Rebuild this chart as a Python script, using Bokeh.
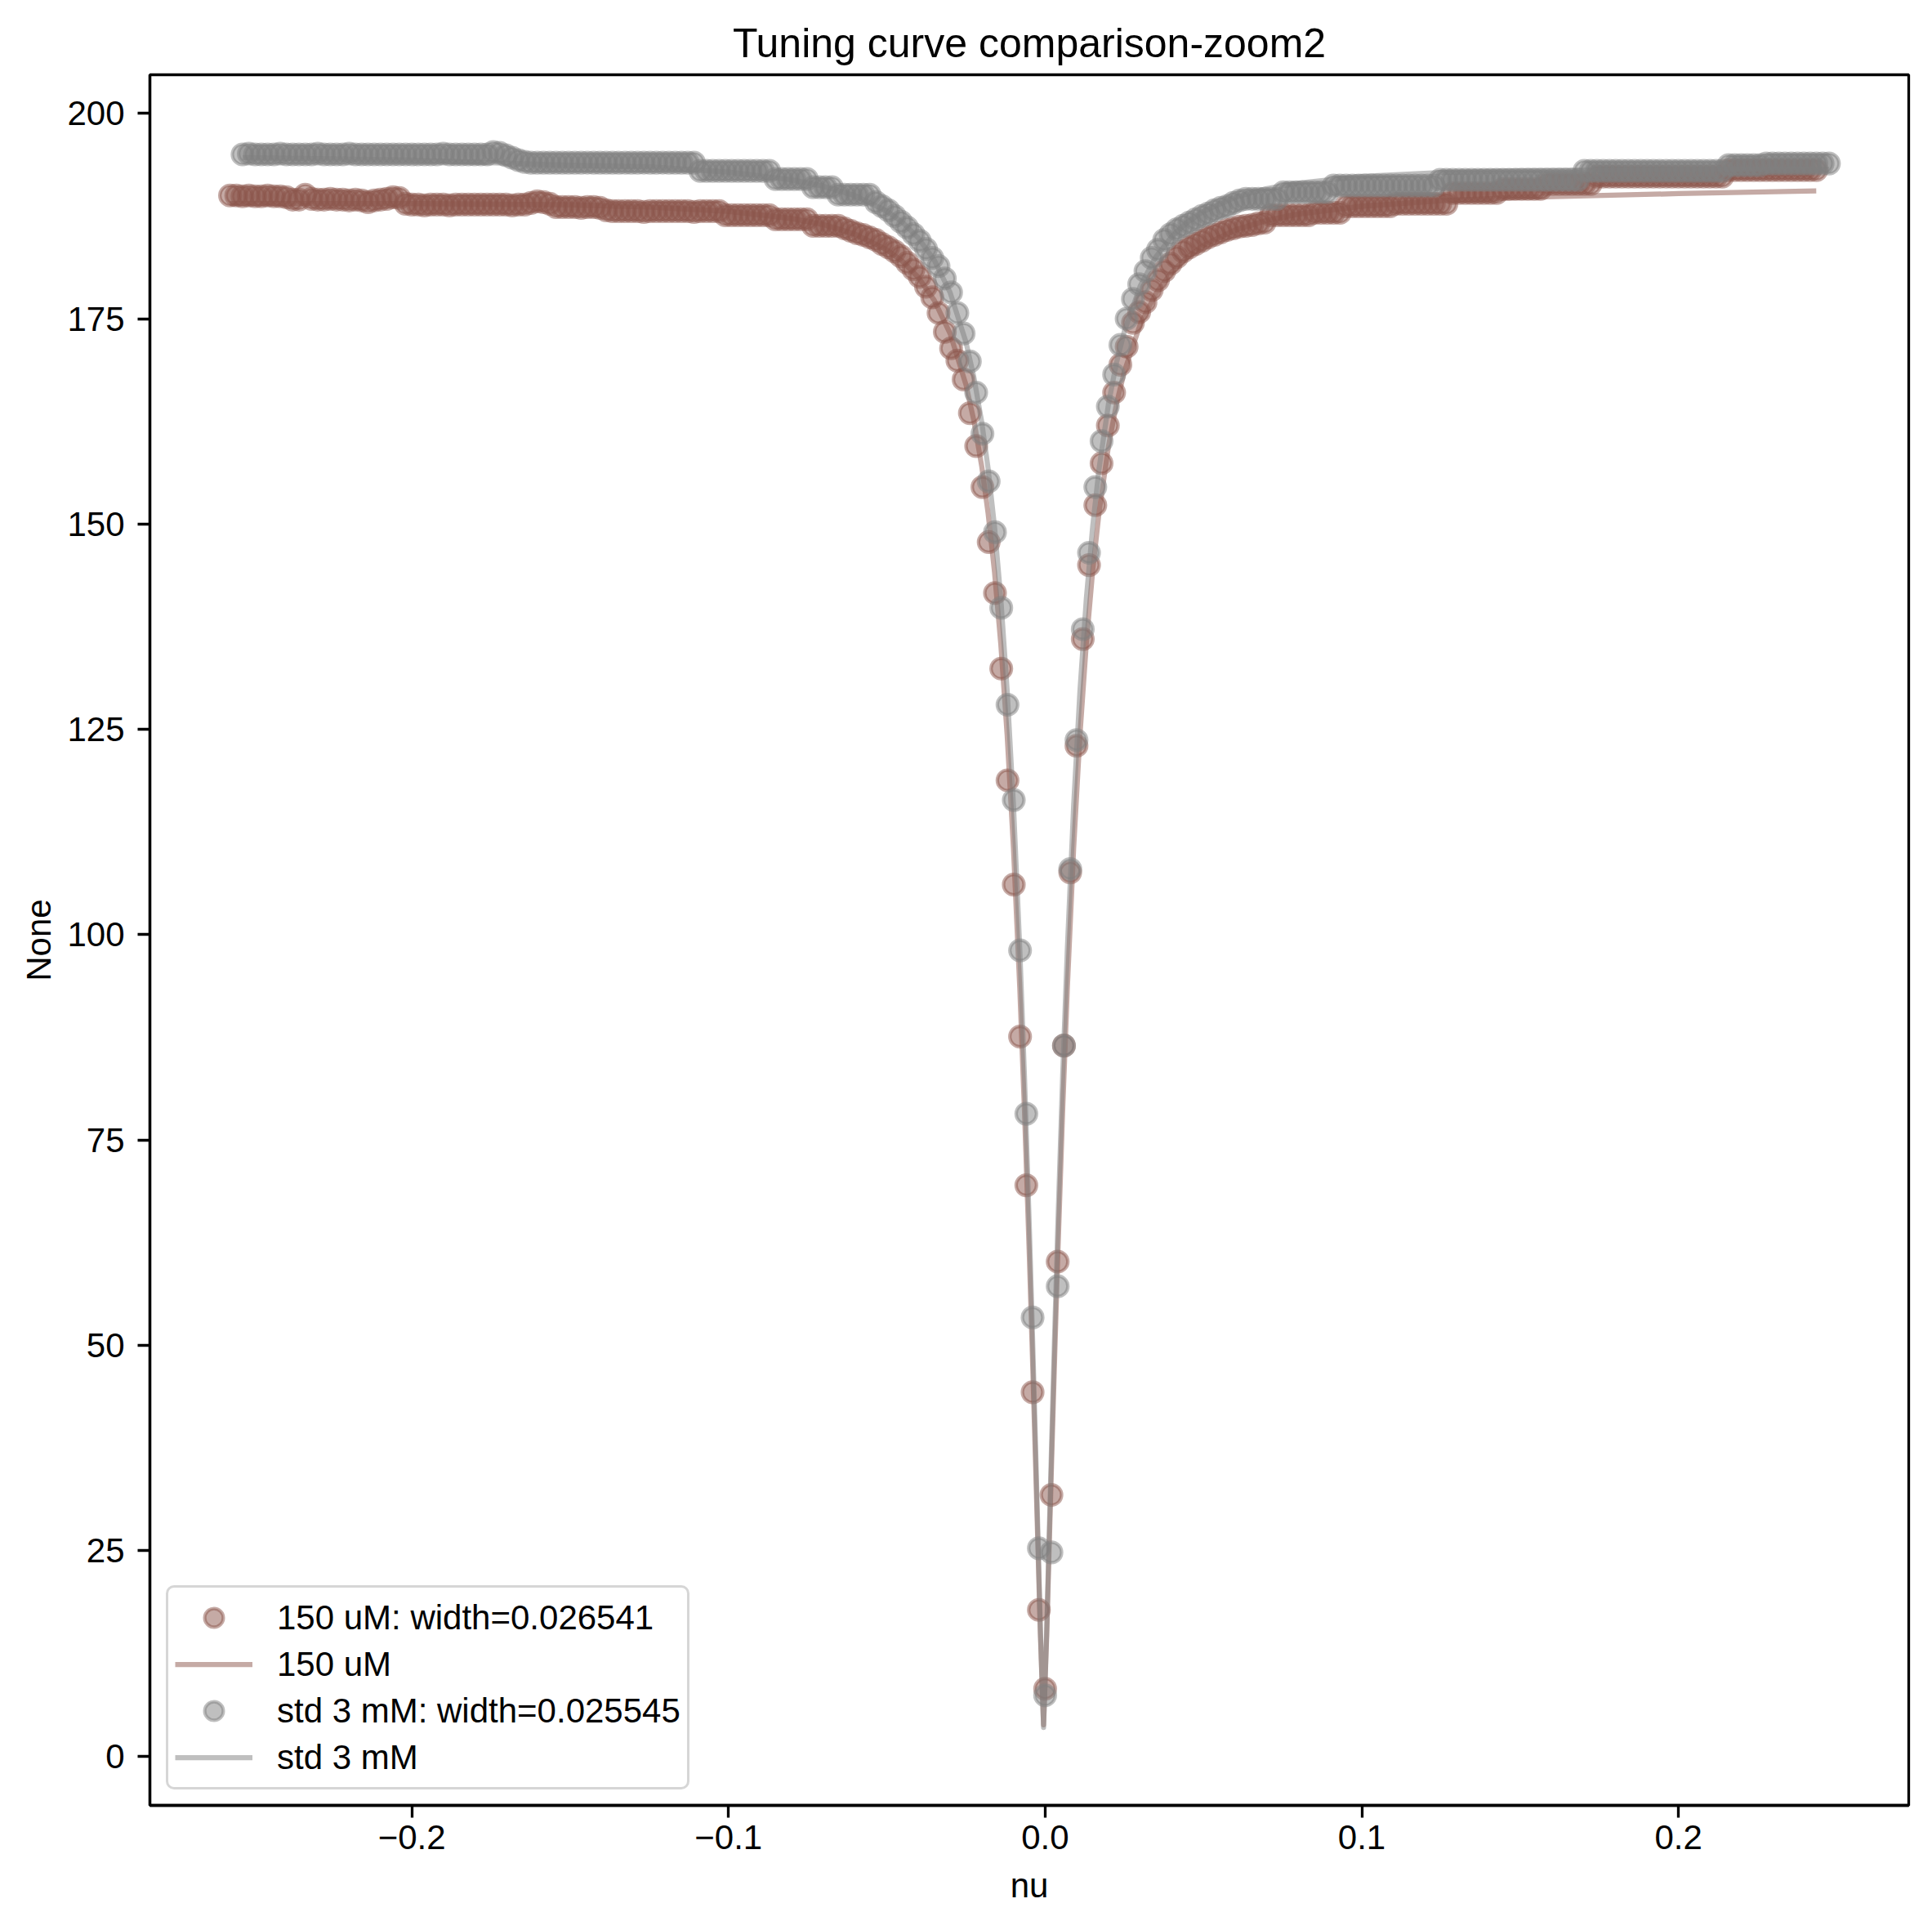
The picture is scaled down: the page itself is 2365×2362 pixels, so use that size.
from bokeh.plotting import figure
from bokeh.models import (Range1d, FixedTicker, Legend, LegendItem, ColumnDataSource,
                          CustomJSTickFormatter)
from bokeh.embed import file_html
from bokeh.resources import INLINE

FONT = "Liberation Sans"
BROWN = "#8c564b"
GRAY = "#7f7f7f"

# detuning grid (shared sampling of both scans)
nu_grid = [
    -0.2574, -0.25542, -0.25344, -0.25146, -0.24948, -0.2475, -0.24552, -0.24354, -0.24156, -0.23958,
    -0.2376, -0.23562, -0.23364, -0.23166, -0.22968, -0.2277, -0.22572, -0.22374, -0.22176, -0.21978,
    -0.2178, -0.21582, -0.21384, -0.21186, -0.20988, -0.2079, -0.20592, -0.20394, -0.20196, -0.19998,
    -0.198, -0.19602, -0.19404, -0.19206, -0.19008, -0.1881, -0.18612, -0.18414, -0.18216, -0.18018,
    -0.1782, -0.17622, -0.17424, -0.17226, -0.17028, -0.1683, -0.16632, -0.16434, -0.16236, -0.16038,
    -0.1584, -0.15642, -0.15444, -0.15246, -0.15048, -0.1485, -0.14652, -0.14454, -0.14256, -0.14058,
    -0.1386, -0.13662, -0.13464, -0.13266, -0.13068, -0.1287, -0.12672, -0.12474, -0.12276, -0.12078,
    -0.1188, -0.11682, -0.11484, -0.11286, -0.11088, -0.1089, -0.10692, -0.10494, -0.10296, -0.10098,
    -0.099, -0.09702, -0.09504, -0.09306, -0.09108, -0.0891, -0.08712, -0.08514, -0.08316, -0.08118,
    -0.0792, -0.07722, -0.07524, -0.07326, -0.07128, -0.0693, -0.06732, -0.06534, -0.06336, -0.06138,
    -0.0594, -0.05742, -0.05544, -0.05346, -0.05148, -0.0495, -0.04752, -0.04554, -0.04356, -0.04158,
    -0.0396, -0.03762, -0.03564, -0.03366, -0.03168, -0.0297, -0.02772, -0.02574, -0.02376, -0.02178,
    -0.0198, -0.01782, -0.01584, -0.01386, -0.01188, -0.0099, -0.00792, -0.00594, -0.00396, -0.00198,
    0.0, 0.00198, 0.00396, 0.00594, 0.00792, 0.0099, 0.01188, 0.01386, 0.01584, 0.01782,
    0.0198, 0.02178, 0.02376, 0.02574, 0.02772, 0.0297, 0.03168, 0.03366, 0.03564, 0.03762,
    0.0396, 0.04158, 0.04356, 0.04554, 0.04752, 0.0495, 0.05148, 0.05346, 0.05544, 0.05742,
    0.0594, 0.06138, 0.06336, 0.06534, 0.06732, 0.0693, 0.07128, 0.07326, 0.07524, 0.07722,
    0.0792, 0.08118, 0.08316, 0.08514, 0.08712, 0.0891, 0.09108, 0.09306, 0.09504, 0.09702,
    0.099, 0.10098, 0.10296, 0.10494, 0.10692, 0.1089, 0.11088, 0.11286, 0.11484, 0.11682,
    0.1188, 0.12078, 0.12276, 0.12474, 0.12672, 0.1287, 0.13068, 0.13266, 0.13464, 0.13662,
    0.1386, 0.14058, 0.14256, 0.14454, 0.14652, 0.1485, 0.15048, 0.15246, 0.15444, 0.15642,
    0.1584, 0.16038, 0.16236, 0.16434, 0.16632, 0.1683, 0.17028, 0.17226, 0.17424, 0.17622,
    0.1782, 0.18018, 0.18216, 0.18414, 0.18612, 0.1881, 0.19008, 0.19206, 0.19404, 0.19602,
    0.198, 0.19998, 0.20196, 0.20394, 0.20592, 0.2079, 0.20988, 0.21186, 0.21384, 0.21582,
    0.2178, 0.21978, 0.22176, 0.22374, 0.22572, 0.2277, 0.22968, 0.23166, 0.23364, 0.23562,
    0.2376, 0.23958, 0.24156, 0.24354, 0.24552, 0.2475,
]
nu_150uM = nu_grid[:254]
nu_std3mM = nu_grid[2:]

counts_150uM = [
    190.0, 190.0, 189.9, 190.0, 189.9, 189.9, 190.0, 189.9, 189.9, 189.8,
    189.5, 189.5, 190.1, 189.6, 189.5, 189.5, 189.6, 189.5, 189.5, 189.4,
    189.5, 189.4, 189.2, 189.4, 189.5, 189.6, 189.8, 189.7, 189.0, 188.9,
    188.9, 188.8, 188.9, 188.9, 188.9, 188.8, 188.9, 188.9, 188.9, 188.9,
    188.9, 188.9, 188.9, 188.9, 188.9, 188.8, 188.9, 188.9, 189.1, 189.3,
    189.2, 189.0, 188.6, 188.6, 188.6, 188.6, 188.5, 188.6, 188.6, 188.5,
    188.2, 188.1, 188.1, 188.1, 188.1, 188.1, 188.0, 188.1, 188.1, 188.1,
    188.1, 188.1, 188.1, 188.1, 188.0, 188.1, 188.1, 188.1, 188.1, 187.6,
    187.6, 187.6, 187.6, 187.6, 187.6, 187.6, 187.6, 187.1, 187.1, 187.1,
    187.1, 187.1, 187.1, 186.3, 186.3, 186.3, 186.3, 186.3, 186.0, 185.7,
    185.4, 185.2, 184.9, 184.6, 184.1, 183.7, 183.2, 182.6, 181.8, 181.0,
    180.1, 178.9, 177.6, 175.7, 173.4, 171.4, 169.9, 167.6, 163.5, 159.5,
    154.5, 147.8, 141.6, 132.4, 118.8, 106.1, 87.6, 69.5, 44.3, 17.8,
    8.2, 31.8, 60.2, 86.5, 107.6, 123.0, 136.0, 145.0, 152.3, 157.4,
    162.0, 166.0, 169.4, 171.6, 174.5, 175.8, 177.0, 178.5, 179.7, 180.8,
    181.7, 182.5, 183.2, 183.7, 184.1, 184.5, 184.9, 185.2, 185.5, 185.8,
    186.0, 186.2, 186.3, 186.4, 186.6, 186.7, 187.6, 187.6, 187.6, 187.6,
    187.6, 187.6, 187.6, 187.9, 187.9, 187.9, 187.9, 187.9, 188.7, 188.7,
    188.7, 188.7, 188.7, 188.7, 188.7, 188.7, 189.0, 189.0, 189.0, 189.0,
    189.0, 189.0, 189.0, 189.0, 189.0, 190.3, 190.3, 190.3, 190.3, 190.3,
    190.3, 190.3, 190.3, 190.8, 190.8, 190.8, 190.8, 190.8, 190.8, 190.8,
    191.4, 191.4, 191.4, 191.4, 191.4, 191.4, 191.4, 191.4, 192.3, 192.3,
    192.3, 192.3, 192.3, 192.3, 192.3, 192.3, 192.3, 192.3, 192.3, 192.3,
    192.3, 192.3, 192.3, 192.3, 192.3, 192.3, 192.3, 192.3, 192.3, 193.1,
    193.1, 193.1, 193.1, 193.1, 193.1, 193.1, 193.1, 193.1, 193.1, 193.1,
    193.1, 193.1, 193.1, 193.1,
]

counts_std3mM = [
    195.0, 195.1, 195.0, 195.0, 195.0, 195.0, 195.1, 195.0, 195.0, 195.0,
    195.0, 195.0, 195.1, 195.0, 195.0, 195.0, 195.0, 195.1, 195.0, 195.0,
    195.0, 195.0, 195.0, 195.0, 195.0, 195.0, 195.0, 195.0, 195.0, 195.0,
    195.0, 195.0, 195.1, 195.0, 195.0, 195.0, 195.0, 195.0, 195.0, 195.0,
    195.3, 195.2, 194.9, 194.6, 194.3, 194.1, 194.0, 194.0, 194.0, 194.0,
    194.0, 194.0, 194.0, 194.0, 194.0, 194.0, 194.0, 194.0, 194.0, 194.0,
    194.0, 194.0, 194.0, 194.0, 194.0, 194.0, 194.0, 194.0, 194.0, 194.0,
    194.0, 194.0, 194.0, 193.0, 193.0, 193.0, 193.0, 193.0, 193.0, 193.0,
    193.0, 193.0, 193.0, 193.0, 193.0, 192.0, 192.0, 192.0, 192.0, 192.0,
    192.0, 191.0, 191.0, 191.0, 191.0, 190.1, 190.1, 190.1, 190.1, 190.1,
    190.1, 189.2, 188.7, 188.2, 187.5, 186.8, 186.1, 185.3, 184.5, 183.5,
    182.4, 181.4, 179.9, 178.2, 175.7, 173.2, 169.8, 166.0, 161.0, 155.2,
    149.0, 139.8, 128.0, 116.4, 98.1, 78.2, 53.4, 25.3, 7.4, 24.8,
    57.2, 86.5, 108.0, 123.7, 137.2, 146.5, 154.5, 160.1, 164.3, 168.2,
    171.8, 175.0, 177.4, 179.2, 180.8, 182.4, 183.4, 184.6, 185.3, 185.9,
    186.3, 186.7, 187.1, 187.5, 187.8, 188.2, 188.5, 188.7, 189.1, 189.4,
    189.6, 189.6, 189.6, 189.6, 189.6, 189.6, 190.4, 190.4, 190.4, 190.4,
    190.4, 190.4, 190.4, 190.4, 191.2, 191.2, 191.2, 191.2, 191.2, 191.2,
    191.2, 191.2, 191.2, 191.2, 191.2, 191.2, 191.2, 191.2, 191.2, 191.2,
    191.2, 191.9, 191.9, 191.9, 191.9, 191.9, 191.9, 191.9, 191.9, 191.9,
    191.9, 191.9, 191.9, 191.9, 191.9, 191.9, 191.9, 191.9, 191.9, 191.9,
    191.9, 191.9, 191.9, 191.9, 193.0, 193.0, 193.0, 193.0, 193.0, 193.0,
    193.0, 193.0, 193.0, 193.0, 193.0, 193.0, 193.0, 193.0, 193.0, 193.0,
    193.0, 193.0, 193.0, 193.0, 193.0, 193.0, 193.0, 193.7, 193.7, 193.7,
    193.7, 193.7, 193.7, 193.9, 193.9, 193.9, 193.9, 193.9, 193.9, 193.9,
    193.9, 193.9, 193.9, 193.9,
]

# fitted curves
fit_nu_150uM = [
    -0.2574, -0.2, -0.15, -0.125, -0.1, -0.08, -0.07, -0.06, -0.05, -0.045,
    -0.04, -0.035, -0.03, -0.025, -0.0225, -0.02, -0.018, -0.016, -0.014, -0.012,
    -0.01, -0.008, -0.0065, -0.005, -0.004, -0.003, -0.0022, -0.0015, -0.0005, 0.0005,
    0.0012, 0.002, 0.003, 0.004, 0.0055, 0.007, 0.009, 0.011, 0.013, 0.015,
    0.017, 0.02, 0.0225, 0.025, 0.03, 0.035, 0.04, 0.045, 0.05, 0.06,
    0.07, 0.08, 0.1, 0.125, 0.15, 0.2, 0.2435,
]
fit_150uM = [
    189.02, 189.03, 188.86, 188.60, 188.08, 187.20, 186.46, 185.29, 183.39, 181.97,
    180.00, 177.23, 173.17, 166.96, 162.58, 156.97, 151.26, 144.19, 135.37, 124.32,
    110.49, 93.40, 78.22, 61.02, 48.50, 35.30, 24.39, 14.74, 3.80, 14.74,
    24.39, 35.30, 48.50, 61.03, 78.24, 93.42, 110.52, 124.37, 135.43, 144.26,
    151.34, 159.49, 164.58, 168.57, 174.29, 178.07, 180.68, 182.54, 183.93, 185.80,
    186.96, 187.75, 188.70, 189.37, 189.76, 190.23, 190.55,
]
fit_nu_std3mM = [
    -0.2534, -0.2, -0.15, -0.125, -0.1, -0.08, -0.07, -0.06, -0.05, -0.045,
    -0.04, -0.035, -0.03, -0.025, -0.0225, -0.02, -0.018, -0.016, -0.014, -0.012,
    -0.01, -0.008, -0.0065, -0.005, -0.004, -0.003, -0.0022, -0.0015, -0.0005, 0.0005,
    0.0012, 0.002, 0.003, 0.004, 0.0055, 0.007, 0.009, 0.011, 0.013, 0.015,
    0.017, 0.02, 0.0225, 0.025, 0.03, 0.035, 0.04, 0.045, 0.05, 0.06,
    0.07, 0.08, 0.1, 0.125, 0.15, 0.2, 0.2475,
]
fit_std3mM = [
    194.61, 194.31, 193.66, 193.49, 192.84, 191.90, 191.13, 189.97, 188.10, 186.71,
    184.80, 182.12, 178.18, 172.15, 167.87, 162.36, 156.74, 149.73, 140.94, 129.80,
    115.75, 98.21, 82.46, 64.48, 51.32, 37.38, 25.79, 15.50, 3.49, 15.50,
    25.79, 37.37, 51.31, 64.47, 82.45, 98.19, 115.72, 129.76, 140.88, 149.66,
    156.67, 164.64, 169.60, 173.46, 178.95, 182.56, 185.02, 186.78, 188.07, 189.78,
    190.84, 191.52, 192.32, 192.80, 193.03, 193.20, 193.20,
]

labels = ["150 uM: width=0.026541", "150 uM", "std 3 mM: width=0.025545", "std 3 mM"]
x_ticks = [-0.2, -0.1, 0.0, 0.1, 0.2]
y_ticks = [0, 25, 50, 75, 100, 125, 150, 175, 200]

p = figure(frame_width=2153, frame_height=2118,
           min_border_left=183, min_border_right=25, min_border_top=91, min_border_bottom=150,
           x_range=Range1d(-0.2827, 0.2727), y_range=Range1d(-6.0, 204.7),
           output_backend="svg", toolbar_location=None,
           title="Tuning curve comparison-zoom2")
p.background_fill_color = "white"
p.border_fill_color = "white"
p.xgrid.visible = False
p.ygrid.visible = False
p.outline_line_color = "black"
p.outline_line_width = 3.3
p.outline_line_alpha = 1.0

p.title.align = "center"
p.title.text_font = FONT
p.title.text_font_size = "50px"
p.title.text_font_style = "normal"
p.title.text_color = "black"
p.title.standoff = 22

for ax in (p.xaxis[0], p.yaxis[0]):
    ax.axis_line_width = 3.3
    ax.axis_line_color = "black"
    ax.major_tick_line_width = 3.3
    ax.major_tick_line_color = "black"
    ax.major_tick_out = 15
    ax.major_tick_in = 0
    ax.minor_tick_line_color = None
    ax.major_label_text_font = FONT
    ax.major_label_text_font_size = "42px"
    ax.major_label_text_color = "black"
    ax.axis_label_text_font = FONT
    ax.axis_label_text_font_size = "42px"
    ax.axis_label_text_font_style = "normal"
    ax.axis_label_text_color = "black"

p.xaxis.ticker = FixedTicker(ticks=x_ticks)
p.xaxis.formatter = CustomJSTickFormatter(code="return tick.toFixed(1).replace('-', '\u2212');")
p.yaxis.ticker = FixedTicker(ticks=y_ticks)
p.xaxis.major_label_standoff = 9
p.yaxis.major_label_standoff = 16
p.xaxis.axis_label = "nu"
p.yaxis.axis_label = "None"
p.xaxis.axis_label_standoff = 18
p.yaxis.axis_label_standoff = 8

src_150 = ColumnDataSource(dict(nu=nu_150uM, counts=counts_150uM))
src_std = ColumnDataSource(dict(nu=nu_std3mM, counts=counts_std3mM))
src_fit_150 = ColumnDataSource(dict(nu=fit_nu_150uM, counts=fit_150uM))
src_fit_std = ColumnDataSource(dict(nu=fit_nu_std3mM, counts=fit_std3mM))

r1 = p.scatter("nu", "counts", source=src_150, marker="circle", size=25,
               fill_color=BROWN, fill_alpha=0.5, line_color=BROWN, line_alpha=0.5, line_width=4.2)
r2 = p.line("nu", "counts", source=src_fit_150, line_color=BROWN, line_alpha=0.5,
            line_width=6.25, line_join="round")
r3 = p.scatter("nu", "counts", source=src_std, marker="circle", size=25,
               fill_color=GRAY, fill_alpha=0.5, line_color=GRAY, line_alpha=0.5, line_width=4.2)
r4 = p.line("nu", "counts", source=src_fit_std, line_color=GRAY, line_alpha=0.5,
            line_width=6.25, line_join="round")

legend = Legend(
    items=[LegendItem(label=labels[0], renderers=[r1]),
           LegendItem(label=labels[1], renderers=[r2]),
           LegendItem(label=labels[2], renderers=[r3]),
           LegendItem(label=labels[3], renderers=[r4])],
    location=(20, 19),
    label_text_font=FONT, label_text_font_size="42px", label_text_color="black",
    glyph_width=95, glyph_height=57, label_height=57, spacing=0,
    padding=8, margin=0, label_standoff=30,
    border_line_color="#cccccc", border_line_width=3.3, border_line_alpha=0.8,
    background_fill_color="white", background_fill_alpha=0.8,
)
try:
    legend.border_radius = 10
except Exception:
    pass
p.add_layout(legend)

open("out.html", "w").write(file_html(p, INLINE))
